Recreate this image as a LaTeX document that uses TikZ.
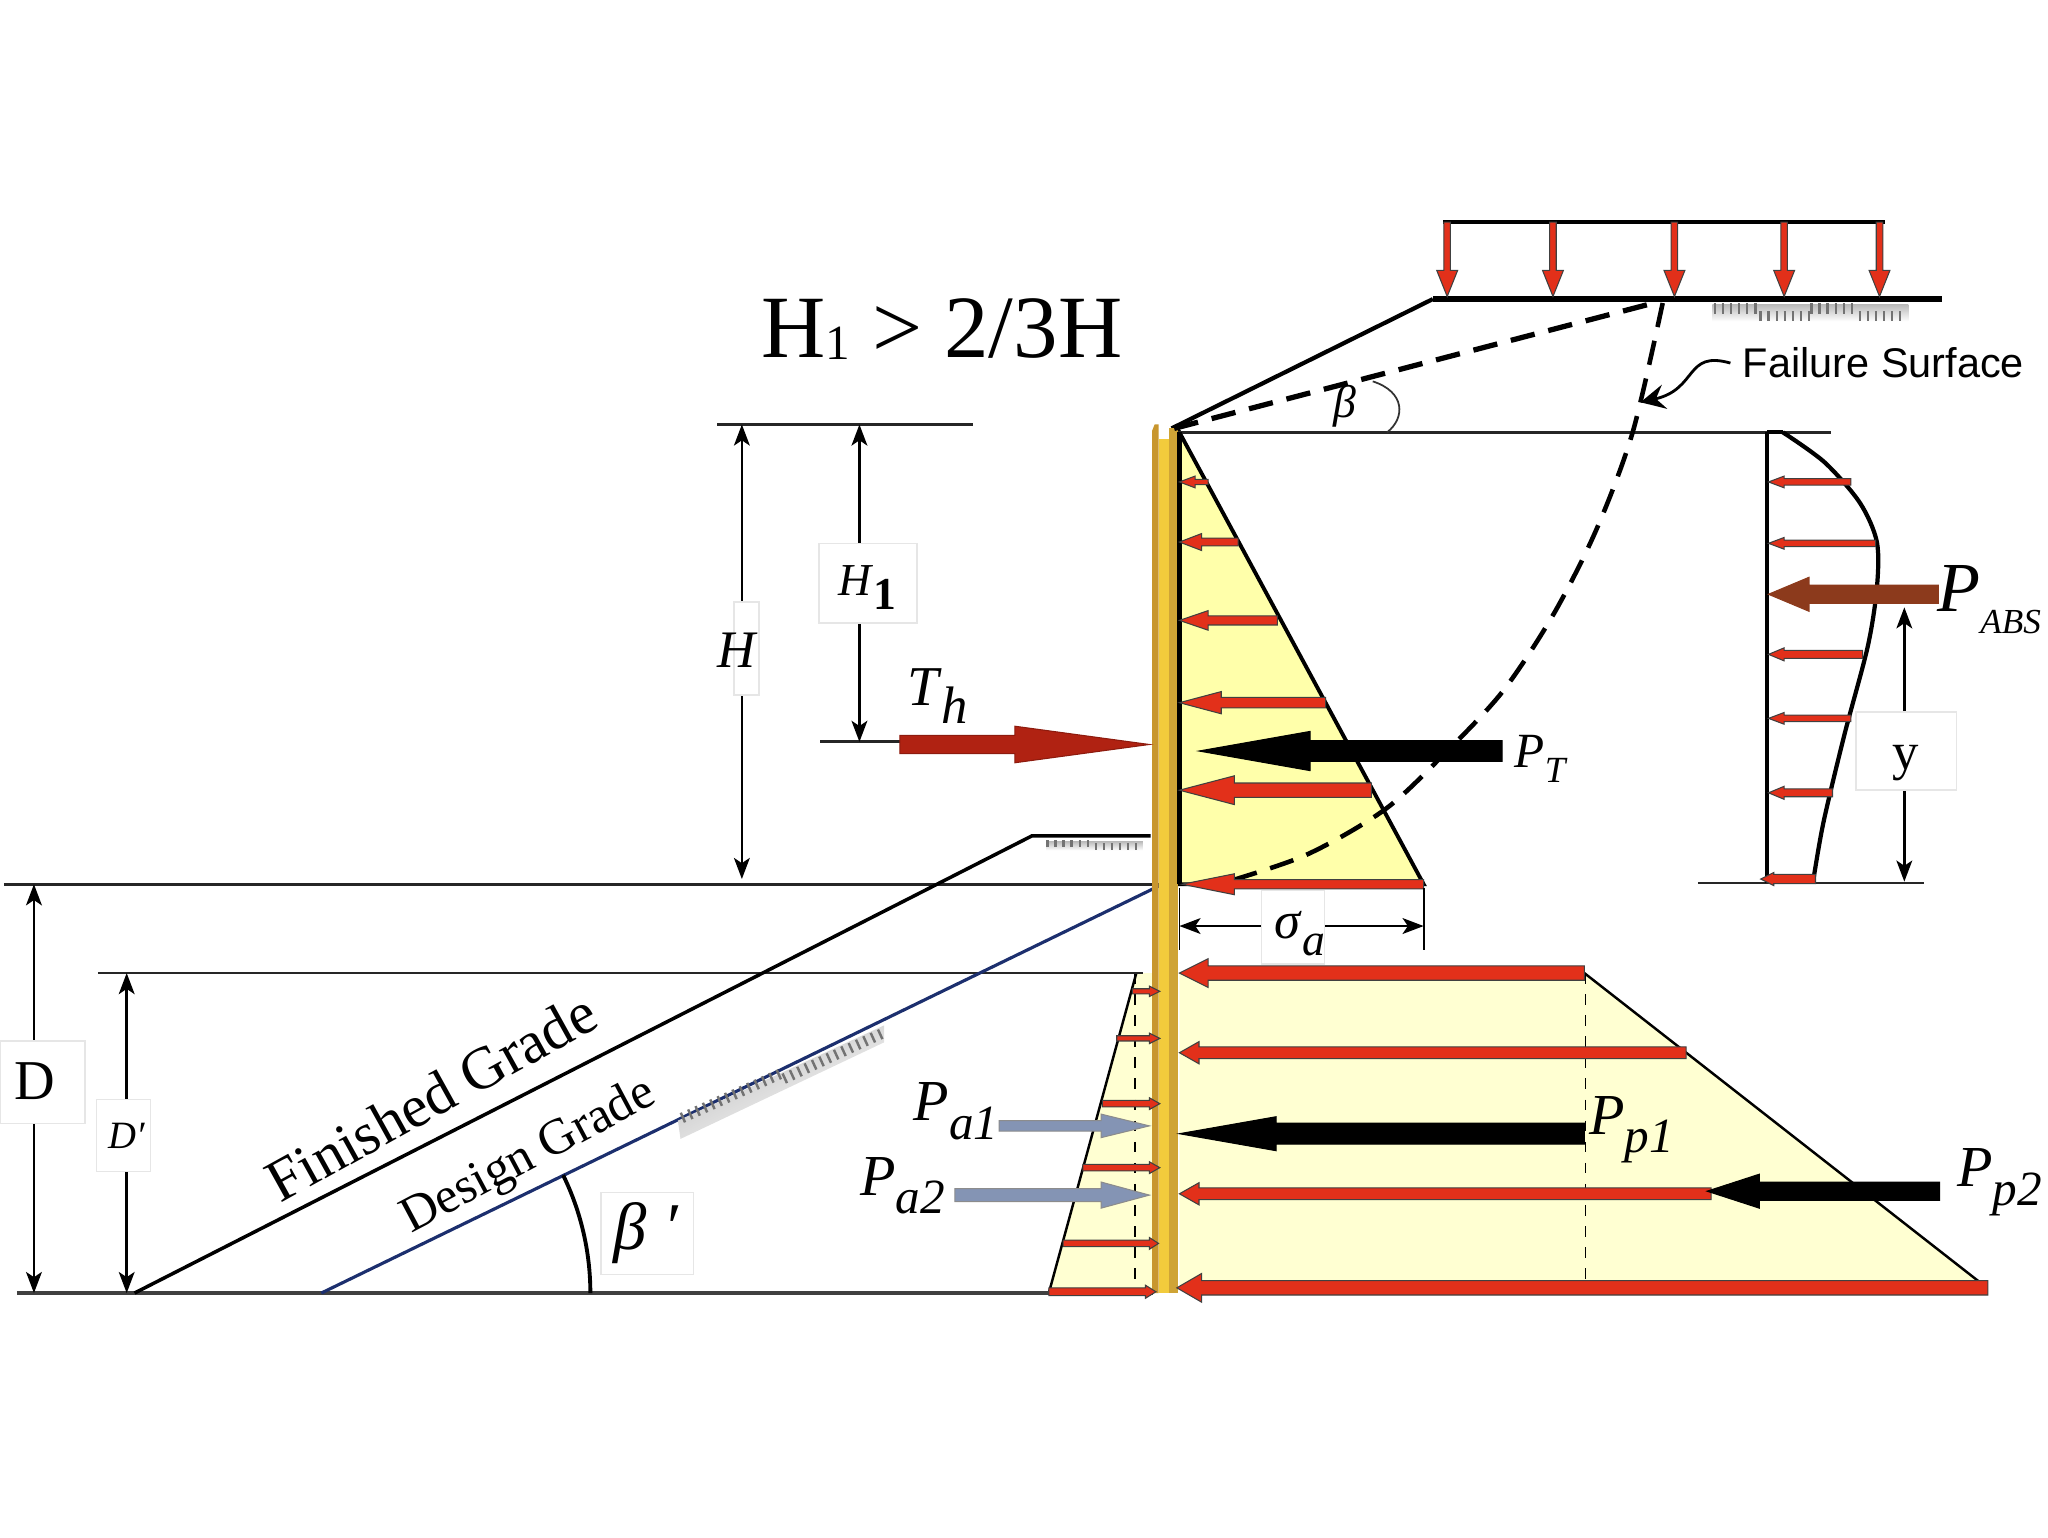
\documentclass[tikz,border=0pt]{standalone}
\usepackage{fontspec}
\setmainfont{Liberation Serif}
\newfontfamily\labelsans{Liberation Sans}
\usetikzlibrary{arrows.meta}

\definecolor{forcered}{HTML}{E2301A}
\definecolor{thrust}{HTML}{B02212}
\definecolor{brownforce}{HTML}{8C3A1C}
\definecolor{slateforce}{HTML}{8494B4}
\definecolor{wallgold}{HTML}{C8962E}
\definecolor{wallbright}{HTML}{F2CB3C}
\definecolor{wallright}{HTML}{CFA436}
\definecolor{activefill}{HTML}{FFFFAA}
\definecolor{passivefill}{HTML}{FFFFD2}
\definecolor{gradeblue}{HTML}{1C2F6E}
\definecolor{boxgrey}{HTML}{E6E6E6}

\tikzset{
	redforce/.style={fill=forcered,draw=black!75,line width=0.3pt},
	blackforce/.style={fill=black,draw=black,line width=0.3pt},
	thrustforce/.style={fill=thrust,draw=thrust!80!black,line width=0.3pt},
	brownarrow/.style={fill=brownforce,draw=brownforce,line width=0.3pt},
	slatearrow/.style={fill=slateforce,draw=black!45,line width=0.3pt},
	dimline/.style={line width=0.7pt,{Stealth[length=6pt,width=4.5pt,inset=1.5pt]}-{Stealth[length=6pt,width=4.5pt,inset=1.5pt]}},
	levelline/.style={line width=0.8pt,black!85},
	labelbox/.style={draw=boxgrey,line width=0.4pt,fill=white},
	hatchticks/.style={black!55,line width=3pt,dash pattern=on 0.7pt off 1.6pt},
	hatchshade/.style={top color=gray!55,bottom color=white,draw=none},
	failure/.style={line width=1.5pt,dash pattern=on 7pt off 4pt},
}

% tail x, neck x, tip x, y, half shaft, half head
\newcommand{\forcearrow}[7][redforce]{%
	\draw[#1] ({#2},{#5-#6}) -- ({#3},{#5-#6}) -- ({#3},{#5-#7}) -- ({#4},{#5})
		-- ({#3},{#5+#7}) -- ({#3},{#5+#6}) -- ({#2},{#5+#6}) -- cycle;}
\newcommand{\sublabel}[4]{{\fontsize{#1}{#1}\selectfont\textit{#3}\raisebox{-.32em}{\fontsize{#2}{#2}\selectfont\textit{#4}}}}

\begin{document}
\begin{tikzpicture}[x=0.013061cm,y=-0.013061cm]
	\useasboundingbox (0,0) rectangle (1568,1177);

	% pressure fields
	\draw [fill=activefill,line width=1.1pt] (903,331) -- (1090,677) -- (903,677) -- cycle;
	\fill [passivefill] (903,745) -- (1213,745) -- (1520,985) -- (903,985) -- cycle;
	\draw [line width=0.7pt] (1213,745) -- (1520,985);
	\fill [passivefill] (870,745) -- (803,990) -- (884,990) -- (884,745) -- cycle;
	\draw [line width=0.7pt] (870,745) -- (803,990);
	\draw [dashed,line width=0.4pt] (1214,745) -- (1214,985);
	\draw [dashed,line width=0.4pt] (869,745) -- (869,985);

	% level lines
	\draw [levelline] (549,325) -- (745,325);
	\draw [levelline] (628,568) -- (690,568);
	\draw [levelline] (3,677) -- (893,677);
	\draw [levelline] (75,745) -- (875,745);
	\draw [line width=1.1pt,black!75] (13,990) -- (883,990);
	\draw [levelline] (897,331) -- (1402,331);
	\draw [levelline] (1300,676) -- (1473,676);

	% slopes
	\draw [line width=1pt] (103,990) -- (790,640) -- (881,640);
	\draw [line width=0.9pt,gradeblue] (246,990) -- (888,678);
	\draw [line width=1.2pt] (897,328) -- (1097,229);
	\draw [line width=1.6pt] (1097,229) -- (1487,229);
	\draw [line width=1.1pt] (452,990) arc (0:-26:206);

	% hatching
	\shade [hatchshade] (1311,233) rectangle (1461,246);
	\draw [hatchticks] (1312,236) -- (1347,236);
	\draw [hatchticks] (1347,242) -- (1386,242);
	\draw [hatchticks] (1386,236) -- (1423,236);
	\draw [hatchticks] (1423,242) -- (1460,242);
	\shade [hatchshade] (801,644) rectangle (875,651);
	\draw [hatchticks,line width=2pt] (801,646) -- (838,646);
	\draw [hatchticks,line width=2pt] (838,648) -- (875,648);
	\shade [hatchshade,shading angle=27] (519,858) -- (677,785) -- (677,798) -- (521,872) -- cycle;
	\draw [hatchticks] (522,856) -- (600,821);
	\draw [hatchticks] (600,826) -- (678,790);

	% wall
	\fill [wallgold] (882,990) -- (882,330) -- (884,325) -- (887,325) -- (887,990) -- cycle;
	\fill [wallbright] (887,990) -- (887,336) -- (895,336) -- (895,990) -- cycle;
	\fill [wallright] (895,990) -- (895,328) -- (902,328) -- (902,990) -- cycle;
	\draw [line width=1.2pt] (903,331) -- (903,677);

	% surcharge
	\draw [line width=1.1pt] (1105,170) -- (1443,170);
	\draw [redforce] (1105.5,170) -- (1110.5,170) -- (1110.5,207) -- (1116,207) -- (1108,227) -- (1100,207) -- (1105.5,207) -- cycle;
	\draw [redforce] (1186.5,170) -- (1191.5,170) -- (1191.5,207) -- (1197,207) -- (1189,227) -- (1181,207) -- (1186.5,207) -- cycle;
	\draw [redforce] (1279.5,170) -- (1284.5,170) -- (1284.5,207) -- (1290,207) -- (1282,227) -- (1274,207) -- (1279.5,207) -- cycle;
	\draw [redforce] (1363.5,170) -- (1368.5,170) -- (1368.5,207) -- (1374,207) -- (1366,227) -- (1358,207) -- (1363.5,207) -- cycle;
	\draw [redforce] (1436.5,170) -- (1441.5,170) -- (1441.5,207) -- (1447,207) -- (1439,227) -- (1431,207) -- (1436.5,207) -- cycle;

	% failure surface
	\draw [failure] (899,328) -- (1270,231);
	\draw [failure,line width=1.3pt] plot [smooth] coordinates {(1273,232) (1250,331) (1222,406) (1189,471) (1150,530) (1105,578) (1060,620) (999,655) (930,678)};
	\draw [line width=0.5pt,black!80] (1051,292) .. controls (1076,300) and (1076,320) .. (1062,331);

	% active pressure arrows
	\forcearrow{925}{915}{903}{369}{2}{4.5}
	\forcearrow{948}{920}{903}{415}{3}{6.5}
	\forcearrow{978}{925}{903}{475}{3.5}{7.5}
	\forcearrow{1015}{935}{903}{538}{4}{8.5}
	\forcearrow{1050}{945}{903}{605}{5.5}{11}
	\forcearrow{1090}{945}{905}{677}{3.5}{8}
	\forcearrow[blackforce]{1150}{1003}{918}{575}{8}{15}
	\forcearrow[thrustforce]{689}{777}{880}{570}{7}{14}

	% passive pressure arrows
	\forcearrow{1213}{925}{903}{745}{5.5}{11}
	\forcearrow{1291}{918}{903}{806}{4.5}{8.5}
	\forcearrow{1310}{918}{903}{914}{4.5}{8.5}
	\forcearrow{1522}{920}{901}{986}{5.5}{11}
	\forcearrow[blackforce]{1213}{977}{903}{868}{8}{13}
	\forcearrow[blackforce]{1485}{1347}{1307}{912}{7}{13}
	\forcearrow{867}{880}{888}{759}{2}{4}
	\forcearrow{855}{880}{888}{795}{2}{4}
	\forcearrow{844}{880}{888}{845}{2.5}{4.5}
	\forcearrow{829}{880}{888}{894}{2.5}{4.5}
	\forcearrow{814}{880}{887}{952}{2.5}{4.5}
	\forcearrow{803}{877}{885}{989}{3}{5}
	\forcearrow[slatearrow]{765}{843}{880}{862}{4}{9}
	\forcearrow[slatearrow]{731}{843}{880}{915}{5}{10}

	% apparent pressure envelope
	\draw [line width=1.2pt] (1353,331) -- (1353,676);
	\draw [line width=1.2pt] (1353,331) -- (1365,331);
	\draw [line width=1.2pt] plot [smooth] coordinates {(1365,331) (1397,354) (1424,385) (1437,415) (1437,450) (1430,495) (1412,563) (1396,630) (1388,676)};
	\forcearrow{1417}{1366}{1354}{369}{2.5}{4.5}
	\forcearrow{1436}{1366}{1354}{416}{2.5}{4.5}
	\forcearrow{1426}{1366}{1354}{501}{3}{5}
	\forcearrow{1417}{1366}{1354}{550}{2.5}{4.5}
	\forcearrow{1403}{1366}{1354}{607}{3}{5}
	\forcearrow{1390}{1358}{1348}{673}{3.5}{5}
	\forcearrow[brownarrow]{1484}{1385}{1354}{455}{7}{13}

	% dimensions
	\draw [dimline] (568,325) -- (568,673);
	\draw [dimline] (658,325) -- (658,568);
	\draw [dimline] (26,677) -- (26,990);
	\draw [dimline] (97,745) -- (97,990);
	\draw [dimline] (1458,465) -- (1458,675);
	\draw [dimline] (903,709) -- (1090,709);
	\draw [line width=0.5pt] (903,680) -- (903,727);
	\draw [line width=0.5pt] (1090,680) -- (1090,727);

	% label boxes
	\draw [labelbox] (562,461) rectangle (581,532);
	\draw [labelbox] (627,416) rectangle (702,477);
	\draw [labelbox] (0,797) rectangle (65,860);
	\draw [labelbox] (74,842) rectangle (115,897);
	\draw [labelbox] (460,913) rectangle (531,976);
	\draw [labelbox] (1421,545) rectangle (1498,605);
	\draw [labelbox] (966,682) rectangle (1014,738);

	% labels
	\node (ruletitle) at (721,252) {\fontsize{25.3}{25.3}\selectfont H\raisebox{-.02em}{\fontsize{14}{14}\selectfont 1} > 2/3H};
	\node (labelH) at (565,498) {\fontsize{15}{15}\selectfont\textit{H}};
	\node (labelHone) at (664,450) {{\fontsize{13}{13}\selectfont\textit{H}\raisebox{-.3em}{\textbf{1}}}};
	\node (labelTh) at (718,533) {\sublabel{16}{15}{T}{h}};
	\node (labelPT) at (1180,581) {\sublabel{14}{10.5}{P}{T}};
	\node (labelPABS) at (1523,459) {\sublabel{20}{10}{P}{ABS}};
	\node (labelY) at (1459,584) {\fontsize{15}{15}\selectfont y};
	\node (labelSigma) at (995,715) {\sublabel{15}{13}{σ}{a}};
	\node (labelD) at (27,828) {\fontsize{16}{16}\selectfont D};
	\node (labelDprime) at (97,870) {\fontsize{11}{11}\selectfont\textit{D′}};
	\node (labelBeta) at (1030,311) {\fontsize{13}{13}\selectfont\textit{β}};
	\node (labelBetap) at (495,944) {\fontsize{19}{19}\selectfont\textit{β ′}};
	\node (labelPaone) at (732,851) {\sublabel{16.5}{14}{P}{a1}};
	\node (labelPatwo) at (691,908) {\sublabel{16.5}{14}{P}{a2}};
	\node (labelPpone) at (1249,865) {\sublabel{16.5}{14}{P}{p1}};
	\node (labelPptwo) at (1531,905) {\sublabel{16.5}{14}{P}{p2}};
	\node [rotate=29] (labelFinished) at (330,840) {\fontsize{17}{17}\selectfont Finished Grade};
	\node [rotate=28] (labelDesign) at (405,886) {\fontsize{14.4}{14.4}\selectfont Design Grade};
	\node (labelFailure) at (1442,278) {\labelsans\fontsize{11.8}{11.8}\selectfont Failure Surface};
	\coordinate (failureTip) at (1256,308);
	\draw [line width=0.8pt,-{Stealth[length=7pt,width=7pt,inset=2.5pt]}] (labelFailure.west) .. controls (1290,268) and (1300,298) .. (failureTip);
\end{tikzpicture}
\end{document}
